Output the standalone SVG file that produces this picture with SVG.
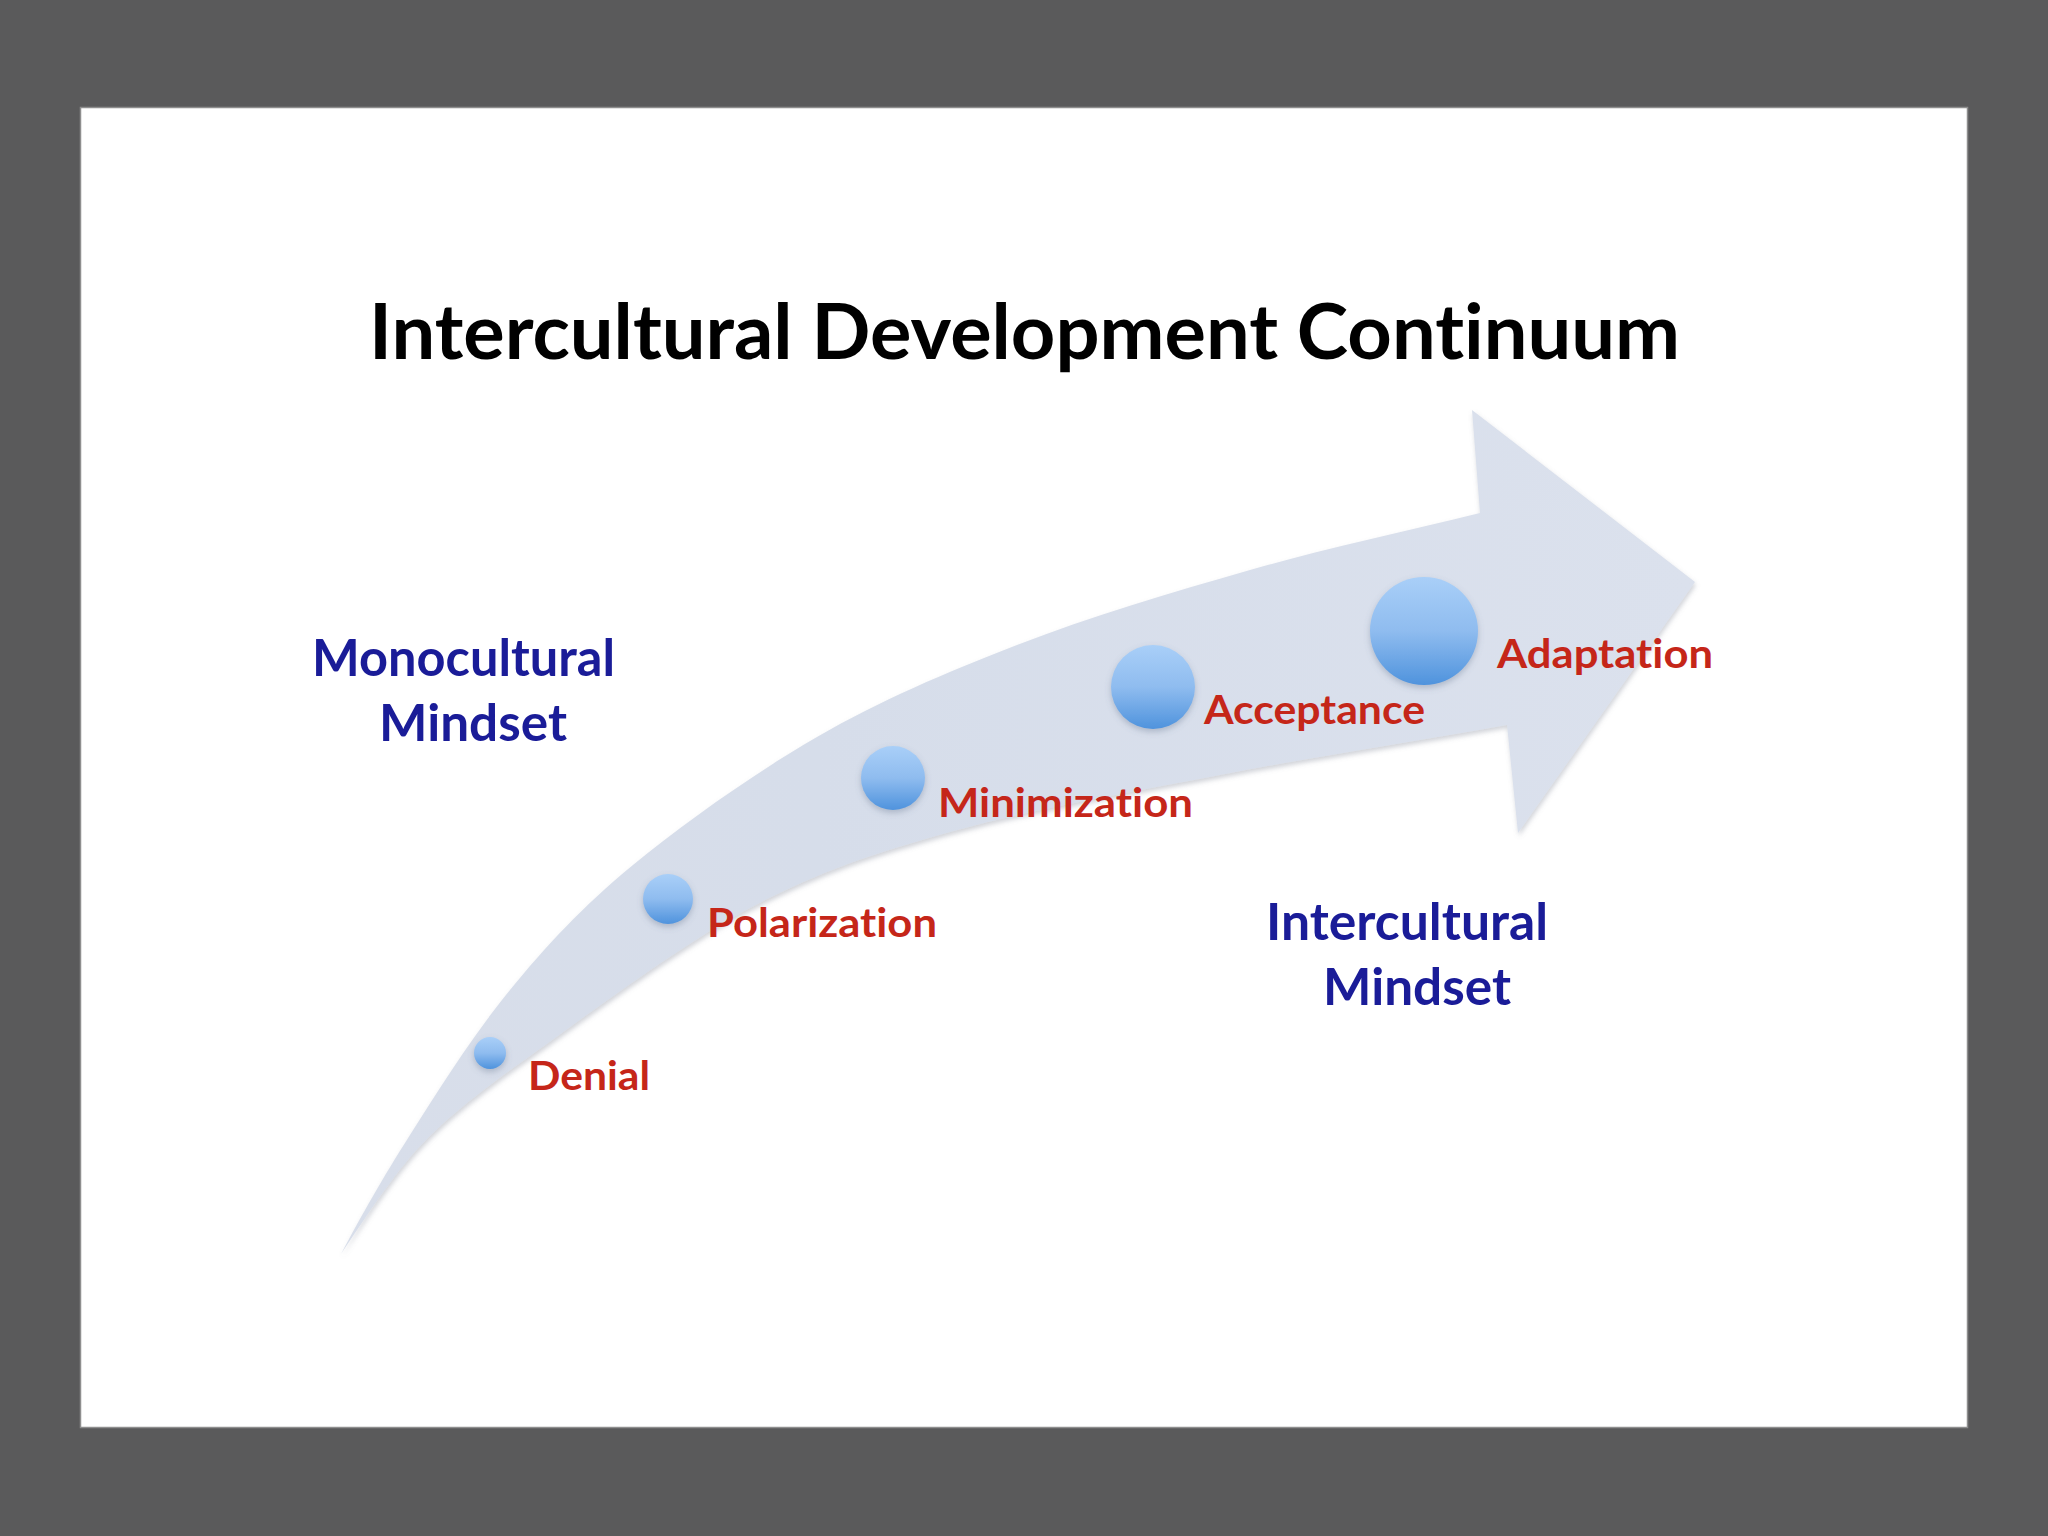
<svg xmlns="http://www.w3.org/2000/svg" width="2048" height="1536" viewBox="0 0 2048 1536">
  <defs>
    <style>
      text { font-variant-ligatures: none; font-feature-settings: "liga" 0, "clig" 0; }
      .title { font-family: Lato, "Open Sans", "Liberation Sans", sans-serif; font-weight: 700; font-size: 77px; fill: #000; }
      .mind { font-family: Lato, "Open Sans", "Liberation Sans", sans-serif; font-weight: 700; font-size: 52px; fill: #1a1c98; }
      .stage { font-family: Lato, "Open Sans", "Liberation Sans", sans-serif; font-weight: 700; font-size: 41px; fill: #c52619; }
      .dot { fill: url(#dotGrad); filter: url(#dotShadow); }
    </style>
    <linearGradient id="arrowGrad" x1="343" y1="0" x2="1695" y2="0" gradientUnits="userSpaceOnUse">
      <stop offset="0" stop-color="#d8deea"/>
      <stop offset="0.35" stop-color="#d6ddea"/>
      <stop offset="1" stop-color="#dbe1ed"/>
    </linearGradient>
    <linearGradient id="dotGrad" x1="0" y1="0" x2="0" y2="1">
      <stop offset="0" stop-color="#a9cff8"/>
      <stop offset="0.5" stop-color="#8fbcef"/>
      <stop offset="1" stop-color="#4f93dd"/>
    </linearGradient>
    <filter id="arrowShadow" x="-10%" y="-10%" width="120%" height="120%">
      <feDropShadow dx="1" dy="3" stdDeviation="2.5" flood-color="#7a8090" flood-opacity="0.35"/>
    </filter>
    <filter id="dotShadow" x="-30%" y="-30%" width="160%" height="170%">
      <feDropShadow dx="0" dy="3" stdDeviation="3" flood-color="#5a6a86" flood-opacity="0.35"/>
    </filter>
  </defs>

  <rect x="0" y="0" width="2048" height="1536" fill="#5a5a5b"/>
  <rect x="80.5" y="107.5" width="1887" height="1320" fill="#ffffff" stroke="#8e8e8e" stroke-width="1.5"/>

  <g id="title">
    <text class="title" x="369" y="359" textLength="1311" lengthAdjust="spacingAndGlyphs">Intercultural Development Continuum</text>
  </g>

  <g id="connectors">
    <path id="continuum-arrow" fill="url(#arrowGrad)" filter="url(#arrowShadow)"
      d="M 341 1254
         C 363 1213 382 1179 410 1135
         C 438 1091 473 1035 510 990
         C 547 945 582 907 633 865
         C 684 823 753 774 817 737
         C 881 700 945 673 1017 645
         C 1089 617 1173 592 1250 570
         C 1327 548 1403 532 1480 513
         L 1472 410
         L 1695 582
         L 1518 833
         L 1507 725
         C 1411 742 1313 757 1220 775
         C 1127 793 1028 810 950 832
         C 872 854 820 871 750 908
         C 680 945 585 1017 530 1056
         C 478 1093 450 1116 426 1140
         C 398 1168 372 1208 341 1254 Z"/>
  </g>

  <g id="monocultural-mindset">
    <text class="mind" x="312" y="676" textLength="303" lengthAdjust="spacingAndGlyphs">Monocultural</text>
    <text class="mind" x="379" y="741" textLength="188" lengthAdjust="spacingAndGlyphs">Mindset</text>
  </g>

  <g id="intercultural-mindset">
    <text class="mind" x="1266" y="940" textLength="282" lengthAdjust="spacingAndGlyphs">Intercultural</text>
    <text class="mind" x="1323" y="1005" textLength="188" lengthAdjust="spacingAndGlyphs">Mindset</text>
  </g>

  <g id="denial">
    <circle class="dot" cx="490" cy="1053" r="16"/>
    <text class="stage" x="528" y="1090" textLength="122" lengthAdjust="spacingAndGlyphs">Denial</text>
  </g>

  <g id="polarization">
    <circle class="dot" cx="668" cy="899" r="25"/>
    <text class="stage" x="707" y="937" textLength="230" lengthAdjust="spacingAndGlyphs">Polarization</text>
  </g>

  <g id="minimization">
    <circle class="dot" cx="893" cy="778" r="32"/>
    <text class="stage" x="938" y="817" textLength="255" lengthAdjust="spacingAndGlyphs">Minimization</text>
  </g>

  <g id="acceptance">
    <circle class="dot" cx="1153" cy="687" r="42"/>
    <text class="stage" x="1204" y="724" textLength="221" lengthAdjust="spacingAndGlyphs">Acceptance</text>
  </g>

  <g id="adaptation">
    <circle class="dot" cx="1424" cy="631" r="54"/>
    <text class="stage" x="1497" y="668" textLength="216" lengthAdjust="spacingAndGlyphs">Adaptation</text>
  </g>
</svg>
